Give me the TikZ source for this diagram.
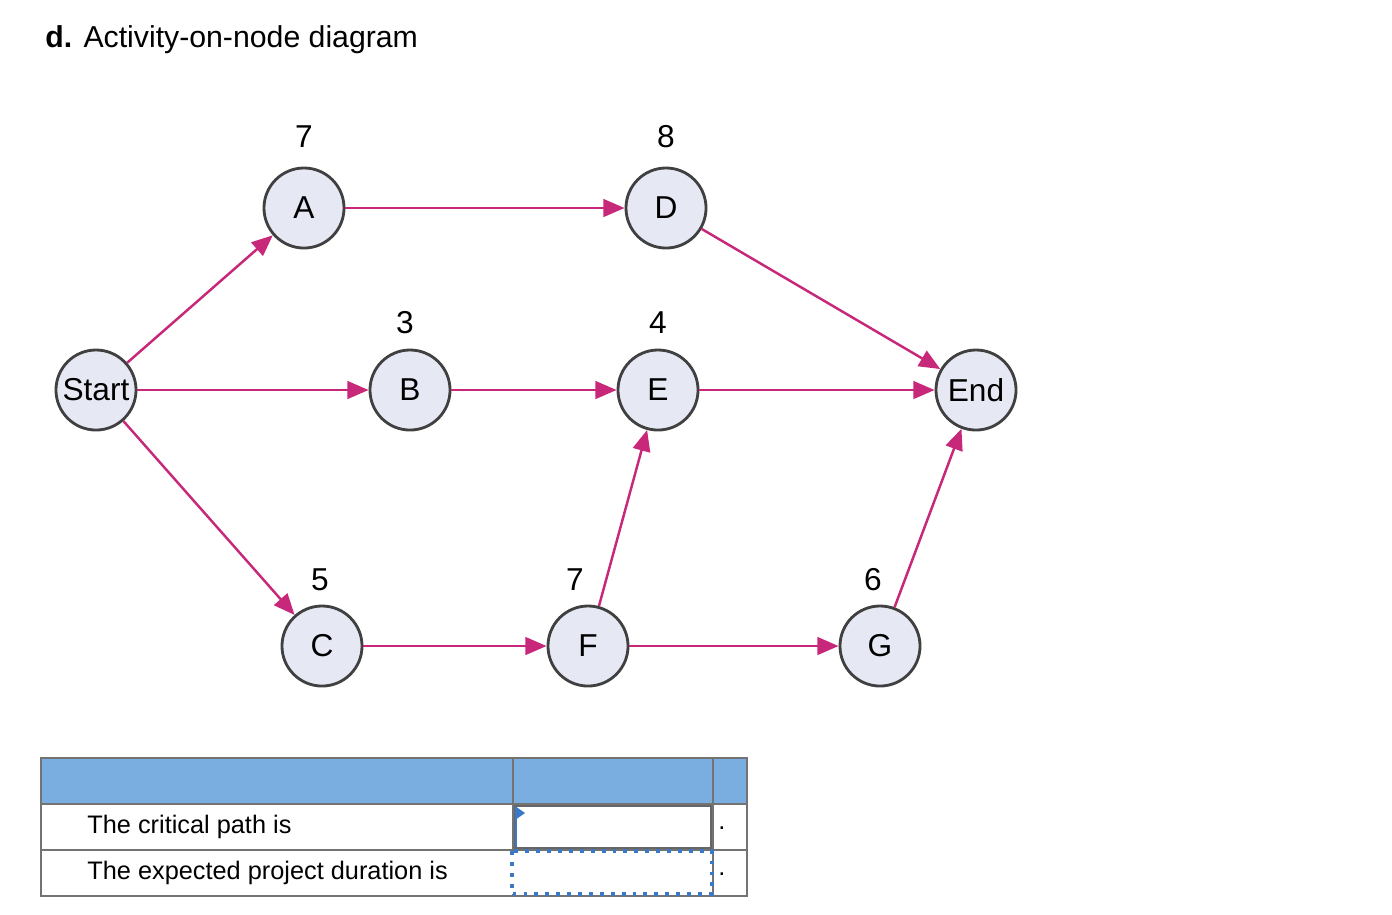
\documentclass[tikz,border=0pt]{standalone}
\usepackage{fontspec}
\setmainfont{Liberation Sans}
\usetikzlibrary{arrows.meta}
\definecolor{nfill}{HTML}{E6E8F4}
\definecolor{arr}{HTML}{C8287A}
\definecolor{hdr}{HTML}{7AAEE0}
\definecolor{inb}{HTML}{3A78C8}
\begin{document}
\begin{tikzpicture}[x=0.01cm,y=-0.01cm,
  act/.style={circle,draw=black!75,line width=0.8pt,fill=nfill,minimum size=0.8cm,inner sep=0pt,font=\fontsize{9}{10}\selectfont},
  num/.style={font=\fontsize{9}{10}\selectfont},
  link/.style={draw=arr,line width=0.7pt,-{Triangle[length=6pt,width=5pt]}}]
\useasboundingbox (0,0) rectangle (1392,914);
\node[anchor=west,font=\fontsize{8.6}{10}\selectfont] (t) at (33,40) {\textbf{d.} Activity-on-node diagram};
\node[act] (S) at (96,390) {Start};
\node[act] (A) at (304,208) {A};
\node[act] (D) at (666,208) {D};
\node[act] (B) at (410,390) {B};
\node[act] (E) at (658,390) {E};
\node[act] (N) at (976,390) {End};
\node[act] (C) at (322,646) {C};
\node[act] (F) at (588,646) {F};
\node[act] (G) at (880,646) {G};
\node[num] (la) at (304,137) {7};
\node[num] (ld) at (666,137) {8};
\node[num] (lb) at (405,323) {3};
\node[num] (le) at (658,323) {4};
\node[num] (lc) at (320,580) {5};
\node[num] (lf) at (575,580) {7};
\node[num] (lg) at (873,580) {6};
\draw[link] (S) -- (A);
\draw[link] (S) -- (B);
\draw[link] (S) -- (C);
\draw[link] (A) -- (D);
\draw[link] (D) -- (N);
\draw[link] (B) -- (E);
\draw[link] (E) -- (N);
\draw[link] (C) -- (F);
\draw[link] (F) -- (E);
\draw[link] (F) -- (G);
\draw[link] (G) -- (N);
% table
\fill[hdr] (41,758) rectangle (747,804);
\draw[black!55,line width=0.8pt] (41,758) rectangle (747,896);
\draw[black!55,line width=0.8pt] (41,804) -- (747,804) (41,850) -- (747,850) (513,758) -- (513,896) (713,758) -- (713,896);
\node[anchor=west,font=\fontsize{7.2}{9}\selectfont] (r1) at (75,827) {The critical path is};
\node[anchor=west,font=\fontsize{7.2}{9}\selectfont] (r2) at (75,873) {The expected project duration is};
\draw[fill=white,draw=black!60,line width=0.8pt] (515,806) rectangle (711,848);
\draw[inb,line width=0.6pt] (516,807) -- (516,847);
\fill[inb] (515,806) -- (525,813) -- (515,820) -- cycle;
\draw[fill=white,draw=inb,line width=1.1pt,dotted] (512,851) rectangle (712,894);
\node[font=\fontsize{7.2}{9}\selectfont] (p1) at (722,828) {.};
\node[font=\fontsize{7.2}{9}\selectfont] (p2) at (722,874) {.};
\end{tikzpicture}
\end{document}
